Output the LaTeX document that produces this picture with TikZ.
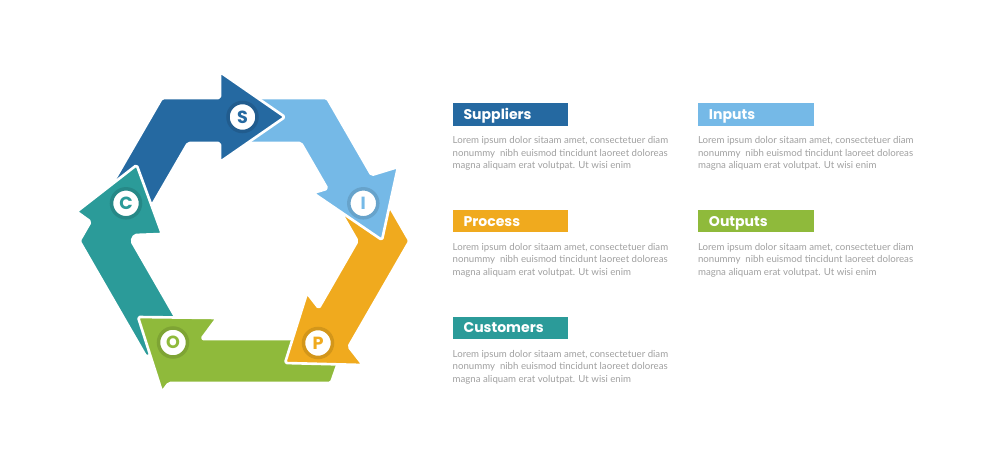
\documentclass[tikz,border=0pt]{standalone}
\usepackage{fontspec}
\setmainfont{Lato}
\newfontfamily\headfont{Poppins}
\usetikzlibrary{positioning}

\definecolor{supblue}{HTML}{2569A1}
\definecolor{inpblue}{HTML}{75B9E7}
\definecolor{procorange}{HTML}{F0AA1E}
\definecolor{outgreen}{HTML}{8FBA3B}
\definecolor{custteal}{HTML}{2B9B99}
\definecolor{loremgray}{HTML}{A0A0A0}

\newcommand{\loremtxt}{Lorem ipsum dolor sitaam amet, consectetuer diam\\
  nonummy\ \ nibh euismod tincidunt laoreet doloreas\\
  magna aliquam erat volutpat. Ut wisi enim}

\begin{document}
\begin{tikzpicture}[x=0.2mm,y=-0.2mm,
  arw/.style={fill=#1,draw=white,line width=1.5pt,line join=round,rounded corners=1pt},
  badge/.style={circle,fill=white,draw=#1!88!black,line width=2pt,minimum size=16.5pt,
    inner sep=0pt,text=#1,font=\headfont\bfseries\fontsize{10}{10}\selectfont},
  tag/.style={fill=#1,anchor=west,minimum height=12.6pt,text width=53.4pt,inner xsep=6.2pt,
    inner ysep=0pt,text height=5.6pt,text depth=0pt,align=left,text=white,
    font=\headfont\bfseries\fontsize{8}{8}\selectfont},
  para/.style={anchor=north west,inner sep=0pt,align=left,text=loremgray,
    font=\fontsize{5.5}{7}\selectfont}]
  \useasboundingbox (0,0) rectangle (1000,464);

  % the five bent arrows round the hexagon
  \draw[arw=custteal] (146.4,357) -- (79.5,241) -- (90.6,221.7) -- (76.7,211.7) -- (136.7,165)
    -- (162,234) -- (134.5,235) -- (131.5,241) -- (185.4,334.5) -- cycle;
  \draw[arw=outgreen] (339,339) -- (201.4,339) -- (217,318) -- (138,317) -- (162,392)
    -- (168.7,383) -- (331,383) -- (339,360) -- cycle;
  \draw[arw=procorange] (374.3,180) -- (409.5,241) -- (348.6,346.6) -- (363,365) -- (285,363)
    -- (307,293) -- (318.8,308.2) -- (357.5,241) -- (335.3,202.5) -- cycle;
  \draw[arw=inpblue] (243,98) -- (327,98) -- (371.5,175.1) -- (398,167) -- (382,240)
    -- (313,193) -- (327.4,188.7) -- (301,143) -- (243,143) -- cycle;
  \draw[arw=supblue] (100,205) -- (162,98) -- (220,98) -- (220,72) -- (285,117)
    -- (220,162) -- (220,143) -- (188,143) -- (139,227.5) -- cycle;
  % C head once more, over the tail of S
  \begin{scope}
    \clip (0,0) rectangle (300,290);
    \draw[arw=custteal] (146.4,357) -- (79.5,241) -- (90.6,221.7) -- (76.7,211.7) -- (136.7,165)
      -- (162,234) -- (134.5,235) -- (131.5,241) -- (185.4,334.5) -- cycle;
  \end{scope}

  \node[badge=supblue]    (s) at (242.5,117) {S};
  \node[badge=inpblue]    (i) at (363.3,203.3) {I};
  \node[badge=procorange] (p) at (318,343) {P};
  \node[badge=outgreen]   (o) at (173,342.5) {O};
  \node[badge=custteal]   (c) at (126,203.3) {C};

  % labels and texts
  \node[tag=supblue]    (hsup)  at (452.3,114.5) {Suppliers};
  \node[tag=inpblue]    (hinp)  at (697.7,114.5) {Inputs};
  \node[tag=procorange] (hproc) at (452.3,221.2) {Process};
  \node[tag=outgreen]   (hout)  at (697.7,221.2) {Outputs};
  \node[tag=custteal]   (hcust) at (452.3,328) {Customers};

  \node[para,below=6pt of hsup.south west,anchor=north west]  (tsup)  {\loremtxt};
  \node[para,below=6pt of hinp.south west,anchor=north west]  (tinp)  {\loremtxt};
  \node[para,below=6pt of hproc.south west,anchor=north west] (tproc) {\loremtxt};
  \node[para,below=6pt of hout.south west,anchor=north west]  (tout)  {\loremtxt};
  \node[para,below=6pt of hcust.south west,anchor=north west] (tcust) {\loremtxt};
\end{tikzpicture}
\end{document}
